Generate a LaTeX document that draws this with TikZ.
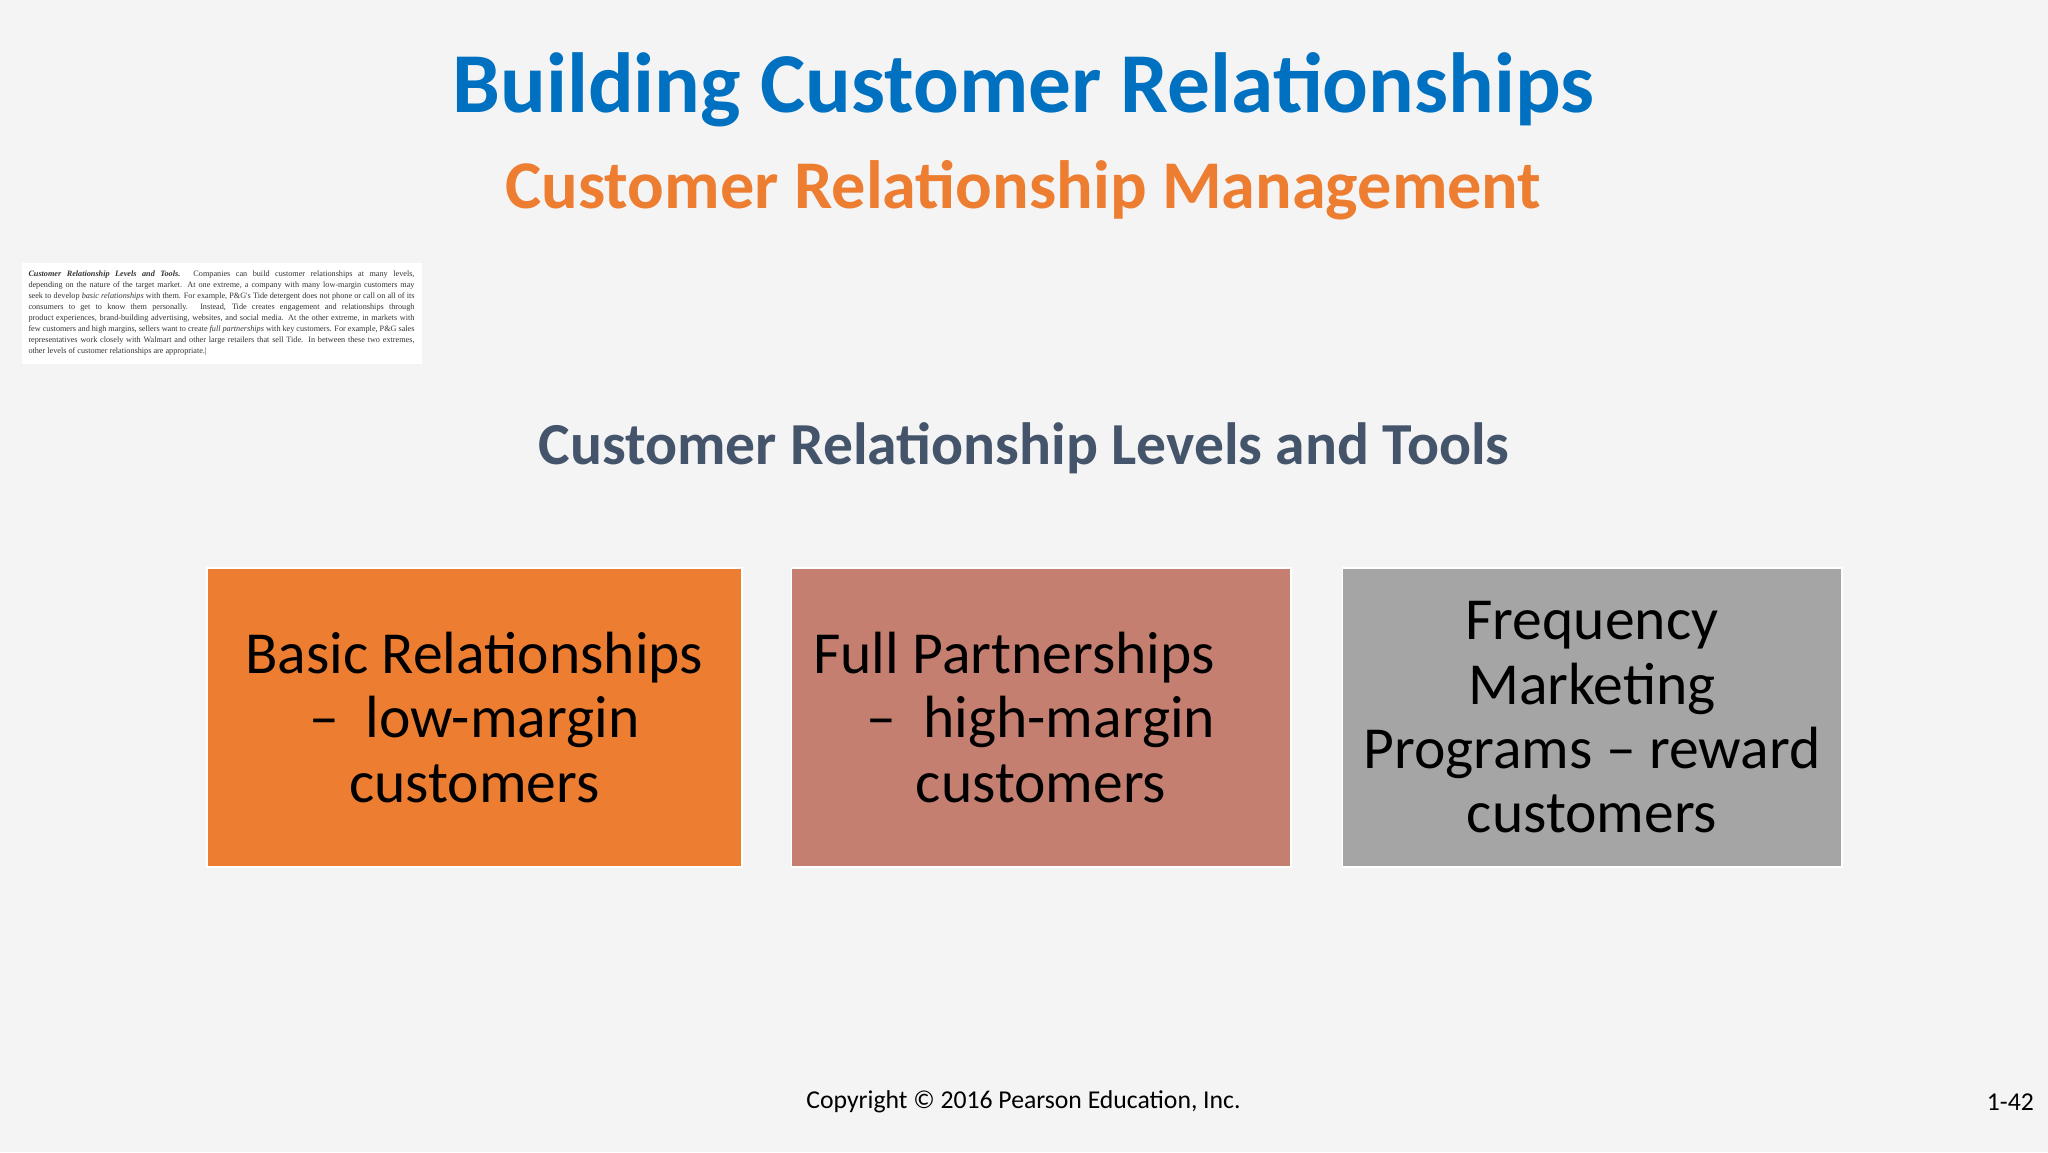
\documentclass[tikz,border=0pt]{standalone}
\usepackage{fontspec}
\usepackage{xcolor}
\setmainfont{Carlito}
\newfontfamily\paperfont{Liberation Serif}
\usetikzlibrary{positioning}
\definecolor{slidebg}{HTML}{F4F4F4}
\definecolor{titleblue}{HTML}{0070C0}
\definecolor{mainorange}{HTML}{ED7D31}
\definecolor{headslate}{HTML}{44546A}
\definecolor{rosebox}{HTML}{C47F70}
\definecolor{greybox}{HTML}{A5A5A5}
\tikzset{
	titletext/.style = {font=\fontsize{85.3}{100}\selectfont\bfseries, text=titleblue, inner sep=0pt},
	subtext/.style   = {font=\fontsize{68.3}{80}\selectfont\bfseries, text=mainorange, inner sep=0pt},
	headtext/.style  = {font=\fontsize{59.6}{70}\selectfont\bfseries, text=headslate, inner sep=0pt},
	level/.style     = {shape=rectangle, draw=white, line width=1.5pt, align=center,
		minimum height=299pt, inner sep=0pt, text=black,
		font=\fontsize{59.6}{64.3}\selectfont},
	foot/.style      = {font=\fontsize{25.7}{30}\selectfont, text=black, inner sep=0pt},
	paper/.style     = {shape=rectangle, fill=white, inner sep=0pt, text width=386pt, minimum width=400pt,
		minimum height=101pt, align=justify, text=black!80,
		font=\paperfont\fontsize{8.2}{10.9}\selectfont}
}
\begin{document}
\begin{tikzpicture}[x=1pt, y=-1pt]
\useasboundingbox [fill=slidebg] (0,0) rectangle (2048,1152);
\node [titletext] (title) at (1023.5,90) {Building Customer Relationships};
\node [subtext] (subtitle) at (1023.5,190) {Customer Relationship Management};
\node [paper] (excerpt) at (221.5,313) {\hyphenpenalty=10000\relax\tolerance=9999\relax
\textbf{\textit{Customer Relationship Levels and Tools.}} Companies can build customer relationships at many levels,\linebreak depending on the nature of the target market. At one extreme, a company with many low-margin customers may\linebreak seek to develop \textit{basic relationships} with them. For example, P\&G's Tide detergent does not phone or call on all of its\linebreak consumers to get to know them personally. Instead, Tide creates engagement and relationships through\linebreak product experiences, brand-building advertising, websites, and social media. At the other extreme, in markets with\linebreak few customers and high margins, sellers want to create \textit{full partnerships} with key customers. For example, P\&G sales\linebreak representatives work closely with Walmart and other large retailers that sell Tide. In between these two extremes,\linebreak other levels of customer relationships are appropriate.|};
\node [headtext] (tools) at (1024,448) {Customer Relationship Levels and Tools};
% the three levels
\node [level, fill=mainorange, minimum width=535pt, anchor=north west] (basic) at (206,567)
	{Basic Relationships\\--\ \ low-margin\\customers};
\node [level, fill=rosebox, minimum width=499.5pt, right=48pt of basic] (full)
	{Full Partnerships\hspace*{54pt}\\--\ \ high-margin\\customers};
\node [level, fill=greybox, minimum width=499.5pt, right=50pt of full] (frequency)
	{Frequency\\Marketing\\Programs -- reward\\customers};
\node [foot] (copyright) at (1023.5,1102) {Copyright © 2016 Pearson Education, Inc.};
\node [foot, anchor=east] (pagenum) at (2034,1102) {1-42};
\end{tikzpicture}
\end{document}
